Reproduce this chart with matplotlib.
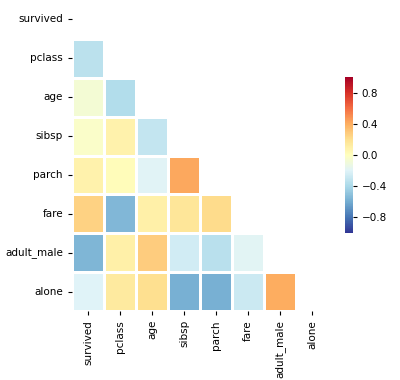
import numpy as np
import pandas as pd
import matplotlib
matplotlib.use('agg')
import matplotlib.pyplot as plt
import seaborn as sns

cols = ['survived', 'pclass', 'age', 'sibsp', 'parch', 'fare', 'adult_male', 'alone']

# lower-triangle correlations, row by row
row_pclass = [-0.338]
row_age = [-0.077, -0.369]
row_sibsp = [-0.035, 0.083, -0.308]
row_parch = [0.082, 0.018, -0.189, 0.415]
row_fare = [0.257, -0.549, 0.096, 0.160, 0.216]
row_adult_male = [-0.557, 0.094, 0.280, -0.254, -0.350, -0.182]
row_alone = [-0.203, 0.135, 0.198, -0.584, -0.583, -0.274, 0.404]

rows = [[], row_pclass, row_age, row_sibsp, row_parch, row_fare, row_adult_male, row_alone]
n = len(cols)
corr = np.eye(n)
for i, r in enumerate(rows):
    for j, v in enumerate(r):
        corr[i, j] = v
        corr[j, i] = v
corr = pd.DataFrame(corr, index=cols, columns=cols)

mask = np.triu(np.ones_like(corr, dtype=bool))

plt.rcParams['font.size'] = 7.5
fig = plt.figure(figsize=(4, 3.8), dpi=100)
ax = fig.add_axes([72/400, 69/380, 256/400, 311/380])
cax = fig.add_axes([345/400, 147/380, 7.5/400, 156/380])

sns.heatmap(corr, mask=mask, cmap='RdYlBu_r', vmin=-1, vmax=1, center=0,
            linewidths=0.8, linecolor='white', ax=ax, cbar_ax=cax)
cax.set_yticks([-0.8, -0.4, 0.0, 0.4, 0.8])
cax.tick_params(labelsize=7.5, length=3)
ax.tick_params(labelsize=7.5, length=3)
plt.setp(ax.get_xticklabels(), rotation=90)
plt.setp(ax.get_yticklabels(), rotation=0)

fig.savefig('out.png')
